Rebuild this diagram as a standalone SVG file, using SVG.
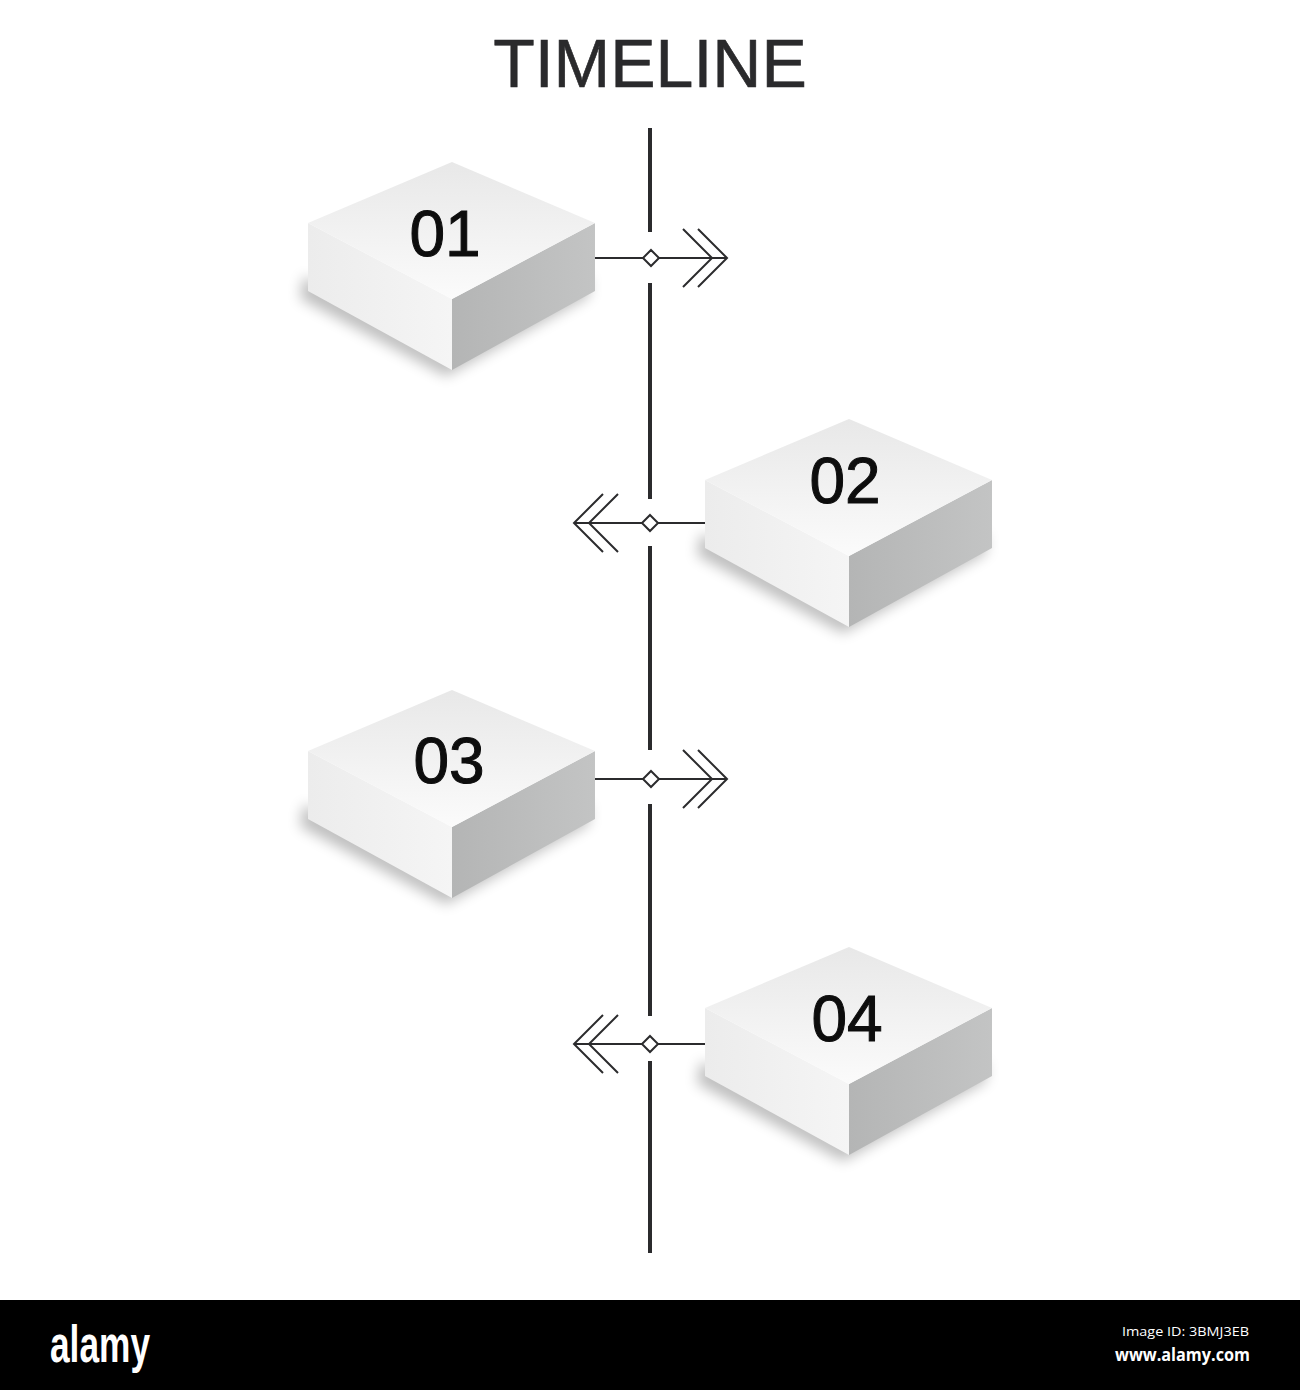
<svg xmlns="http://www.w3.org/2000/svg" width="1300" height="1390" viewBox="0 0 1300 1390">
  <style>
    .title { font-family: "Liberation Sans", Arial, sans-serif; font-size: 68px; fill: #2a2a2c; stroke: #2a2a2c; stroke-width: 0.6px; }
    .num { font-family: "Liberation Sans", Arial, sans-serif; font-size: 64px; fill: #0d0d0d; stroke: #0d0d0d; stroke-width: 1px; text-anchor: middle; }
    .axis { stroke: #2b2b2d; stroke-width: 4; fill: none; }
    .conn { stroke: #2b2b2d; stroke-width: 2; fill: none; }
    .dia { stroke: #2b2b2d; stroke-width: 2; fill: #ffffff; }
    .top { fill: url(#topGrad); }
    .left { fill: url(#leftGrad); }
    .right { fill: url(#rightGrad); }
    .shadow { fill: #000000; opacity: 0.26; filter: url(#blur); }
  </style>
  <defs>
    <linearGradient id="topGrad" x1="0" y1="0" x2="0" y2="1">
      <stop offset="0" stop-color="#e8e8e8"/>
      <stop offset="1" stop-color="#fbfbfb"/>
    </linearGradient>
    <linearGradient id="leftGrad" x1="0" y1="0" x2="1" y2="0">
      <stop offset="0" stop-color="#ececec"/>
      <stop offset="1" stop-color="#f5f5f5"/>
    </linearGradient>
    <linearGradient id="rightGrad" x1="0" y1="0" x2="1" y2="0">
      <stop offset="0" stop-color="#b4b5b5"/>
      <stop offset="1" stop-color="#c3c4c4"/>
    </linearGradient>
    <filter id="blur" x="-20%" y="-40%" width="140%" height="180%">
      <feGaussianBlur stdDeviation="7"/>
    </filter>
    <g id="cube">
      <polygon class="shadow" points="-148,114 -6,194 137,114 137,134 -6,214 -152,136"/>
      <polygon class="left" points="-144,61 0,137 0,208 -144,129"/>
      <polygon class="right" points="0,137 143,61 143,129 0,208"/>
      <polygon class="top" points="0,0 143,61 0,137 -144,61"/>
    </g>
  </defs>

  <rect x="0" y="0" width="1300" height="1390" fill="#ffffff"/>

  <g id="title">
    <text class="title" x="650" y="87" text-anchor="middle">TIMELINE</text>
  </g>

  <g id="connectors">
    <g id="axis">
      <line class="axis" x1="650" y1="128" x2="650" y2="232"/>
      <line class="axis" x1="650" y1="283" x2="650" y2="499"/>
      <line class="axis" x1="650" y1="546" x2="650" y2="750"/>
      <line class="axis" x1="650" y1="804" x2="650" y2="1016"/>
      <line class="axis" x1="650" y1="1061" x2="650" y2="1253"/>
    </g>
    <g id="conn-01">
      <line class="conn" x1="594" y1="258" x2="727" y2="258"/>
      <polyline class="conn" points="683,229 712,258 683,287"/>
      <polyline class="conn" points="698,229 727,258 698,287"/>
      <polygon class="dia" points="651,250 659,258 651,266 643,258"/>
    </g>
    <g id="conn-02">
      <line class="conn" x1="574" y1="523" x2="707" y2="523"/>
      <polyline class="conn" points="603,494 574,523 603,552"/>
      <polyline class="conn" points="618,494 589,523 618,552"/>
      <polygon class="dia" points="650,515 658,523 650,531 642,523"/>
    </g>
    <g id="conn-03">
      <line class="conn" x1="594" y1="779" x2="727" y2="779"/>
      <polyline class="conn" points="683,750 712,779 683,808"/>
      <polyline class="conn" points="698,750 727,779 698,808"/>
      <polygon class="dia" points="651,771 659,779 651,787 643,779"/>
    </g>
    <g id="conn-04">
      <line class="conn" x1="574" y1="1044" x2="707" y2="1044"/>
      <polyline class="conn" points="603,1015 574,1044 603,1073"/>
      <polyline class="conn" points="618,1015 589,1044 618,1073"/>
      <polygon class="dia" points="650,1036 658,1044 650,1052 642,1044"/>
    </g>
  </g>

  <g id="box-01">
    <use href="#cube" x="452" y="162"/>
    <text class="num" x="445" y="256">01</text>
  </g>
  <g id="box-02">
    <use href="#cube" x="849" y="419"/>
    <text class="num" x="845" y="503">02</text>
  </g>
  <g id="box-03">
    <use href="#cube" x="452" y="690"/>
    <text class="num" x="449" y="783">03</text>
  </g>
  <g id="box-04">
    <use href="#cube" x="849" y="947"/>
    <text class="num" x="847" y="1041">04</text>
  </g>

  <g id="footer">
    <rect x="0" y="1300" width="1300" height="90" fill="#000000"/>
    <text x="50" y="1362" font-family="Liberation Sans, Arial, sans-serif" font-weight="bold" font-size="52" fill="#ffffff" textLength="100" lengthAdjust="spacingAndGlyphs">alamy</text>
    <text x="1122" y="1336" font-family="Open Sans, Liberation Sans, sans-serif" font-size="13" fill="#ffffff" textLength="127" lengthAdjust="spacingAndGlyphs">Image ID: 3BMJ3EB</text>
    <text x="1115" y="1361" font-family="Open Sans, Liberation Sans, sans-serif" font-weight="bold" font-size="17" fill="#ffffff" textLength="135" lengthAdjust="spacingAndGlyphs">www.alamy.com</text>
  </g>
</svg>
